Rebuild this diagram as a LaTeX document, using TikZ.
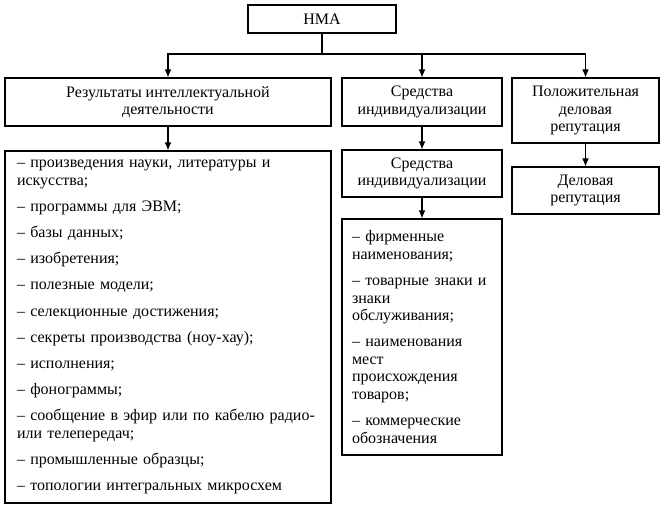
\documentclass[tikz,border=0pt]{standalone}
\usepackage{fontspec}
\setmainfont{Liberation Serif}
\usetikzlibrary{arrows.meta,positioning,calc}

\tikzset{
  box/.style={draw, line width=0.8pt, inner sep=2pt, align=center, font=\fontsize{12}{13.2}\selectfont},
  listbox/.style={draw, line width=0.8pt, inner xsep=9pt, inner ysep=2pt, align=left, font=\fontsize{12}{13.2}\selectfont},
  arr/.style={-{Latex[length=6pt,width=5pt]}, line width=0.8pt},
}

\begin{document}
\begin{tikzpicture}[x=0.75pt,y=0.75pt,yscale=-1,xscale=1]
\useasboundingbox (0,0) rectangle (666,508);

% Top node
\node [box, minimum width=111pt, minimum height=21pt] (nma) at (322,19) {НМА};

% First level
\node [box, minimum width=244.5pt, minimum height=36pt] (res) at (168,102) {Результаты интеллектуальной\\деятельности};
\node [box, minimum width=120pt, minimum height=36pt] (sred) at (422,102) {Средства\\индивидуализации};
\node [box, minimum width=110.25pt, minimum height=48.75pt] (rep) at (585.5,110.5) {Положительная\\деловая\\репутация};

% Second level
\node [box, minimum width=120pt, minimum height=35.25pt] (sredb) at (422,173.5) {Средства\\индивидуализации};
\node [box, minimum width=110.25pt, minimum height=35.25pt] (repb) at (585.5,190.5) {Деловая\\репутация};

% Lists
\node [listbox, text width=226.5pt, minimum height=264pt] (reslist) at (168,327) {%
– произведения науки, литературы и\\искусства;\\[6.4pt]
– программы для ЭВМ;\\[6.4pt]
– базы данных;\\[6.4pt]
– изобретения;\\[6.4pt]
– полезные модели;\\[6.4pt]
– селекционные достижения;\\[6.4pt]
– секреты производства (ноу-хау);\\[6.4pt]
– исполнения;\\[6.4pt]
– фонограммы;\\[6.4pt]
– сообщение в эфир или по кабелю радио-\\или телепередач;\\[6.4pt]
– промышленные образцы;\\[6.4pt]
– топологии интегральных микросхем};
\node [listbox, inner xsep=7.5pt, text width=105pt, minimum height=177pt] (sredlist) at (422,337) {%
– фирменные\\наименования;\\[6.4pt]
– товарные знаки и\\знаки\\обслуживания;\\[6.4pt]
– наименования\\мест\\происхождения\\товаров;\\[6.4pt]
– коммерческие\\обозначения};

% Connectors
\coordinate (bus) at (322,54);
\draw [line width=0.8pt] (nma) -- (bus);
\draw [arr] (bus) -| (res);
\draw [arr] (bus) -| (sred);
\draw [arr] (bus) -| (rep);
\draw [arr] (res) -- (reslist);
\draw [arr] (sred) -- (sredb);
\draw [arr] (sredb) -- (sredlist);
\draw [arr] (rep) -- (repb);
\end{tikzpicture}
\end{document}
